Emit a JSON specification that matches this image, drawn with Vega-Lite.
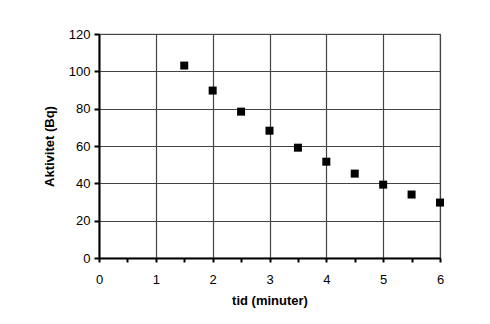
{
  "$schema": "https://vega.github.io/schema/vega-lite/v6.json",
  "autosize": "none",
  "padding": {"left": 99, "top": 34, "right": 50, "bottom": 66},
  "width": 341,
  "height": 224,
  "background": "white",
  "config": {
    "font": "Liberation Sans",
    "view": {"stroke": "#777", "strokeWidth": 1.2}
  },
  "data": {
    "values": [
      {"tid": 1.5, "aktivitet": 103.1},
      {"tid": 2.0, "aktivitet": 89.7},
      {"tid": 2.5, "aktivitet": 78.4},
      {"tid": 3.0, "aktivitet": 68.2},
      {"tid": 3.5, "aktivitet": 59.1},
      {"tid": 4.0, "aktivitet": 51.6},
      {"tid": 4.5, "aktivitet": 45.2},
      {"tid": 5.0, "aktivitet": 39.3},
      {"tid": 5.5, "aktivitet": 34.0},
      {"tid": 6.0, "aktivitet": 29.7}
    ]
  },
  "mark": {"type": "square", "color": "black", "opacity": 1, "size": 64, "filled": true},
  "encoding": {
    "x": {
      "field": "tid", "type": "quantitative",
      "scale": {"domain": [0, 6], "nice": false},
      "axis": {
        "title": "tid (minuter)",
        "values": [0, 0.5, 1, 1.5, 2, 2.5, 3, 3.5, 4, 4.5, 5, 5.5, 6],
        "labelExpr": "datum.value % 1 === 0 ? '' + datum.value : ''",
        "labelFlush": false,
        "labelFontSize": 13, "labelColor": "black", "labelPadding": 11,
        "titleFontSize": 13, "titleFontWeight": "bold", "titleColor": "black", "titlePadding": 8,
        "domainColor": "black", "domainWidth": 2,
        "tickColor": "black", "tickSize": 4, "tickWidth": 2,
        "grid": true, "gridColor": "#444", "gridWidth": 1.2,
        "gridOpacity": {"condition": {"test": "datum.value % 1 !== 0", "value": 0}, "value": 1}
      }
    },
    "y": {
      "field": "aktivitet", "type": "quantitative",
      "scale": {"domain": [0, 120], "nice": false},
      "axis": {
        "title": "Aktivitet (Bq)",
        "values": [0, 20, 40, 60, 80, 100, 120],
        "labelFlush": false,
        "labelFontSize": 13, "labelColor": "black", "labelPadding": 4,
        "titleFontSize": 13, "titleFontWeight": "bold", "titleColor": "black", "titlePadding": 12,
        "domainColor": "black", "domainWidth": 2,
        "tickColor": "black", "tickSize": 5, "tickWidth": 2,
        "grid": true, "gridColor": "#444", "gridWidth": 1.2
      }
    }
  }
}
